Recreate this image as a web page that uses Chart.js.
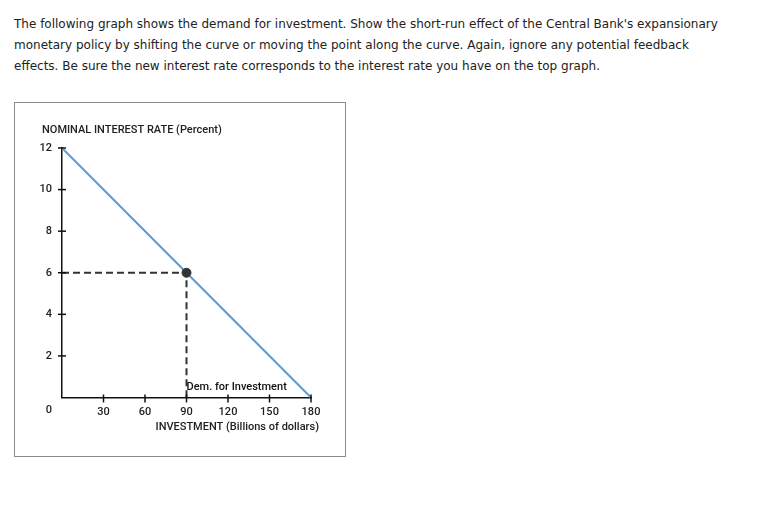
<!DOCTYPE html>
<html>
<head>
<meta charset="utf-8">
<script src="https://cdn.jsdelivr.net/npm/chart.js@4/dist/chart.umd.min.js"></script>
<style>
  body { margin: 0; background: #fff; }
  #question {
    position: absolute; left: 14px; top: 14px; width: 750px; white-space: nowrap;
    font-family: "DejaVu Sans", Verdana, sans-serif; font-size: 12px; line-height: 21px; color: #222;
  }
  #box {
    position: absolute; left: 14px; top: 102px; width: 330px; height: 353px;
    border: 1px solid #8a8a8a;
  }
  #box canvas { display: block; }
</style>
</head>
<body>
<div id="question">The following graph shows the demand for investment. Show the short-run effect of the Central Bank's expansionary<br>monetary policy by shifting the curve or moving the point along the curve. Again, ignore any potential feedback<br>effects. Be sure the new interest rate corresponds to the interest rate you have on the top graph.</div>
<div id="box"><canvas id="grafico" width="330" height="353"></canvas></div>
<script>
// Demand for investment curve (endpoints)
const curveInvestment = [0, 180];
const curveRate = [12, 0];
// Current equilibrium point
const pointInvestment = [90];
const pointRate = [6];
// Axis ticks
const xTicks = [0, 30, 60, 90, 120, 150, 180];
const yTicks = [0, 2, 4, 6, 8, 10, 12];
const curveLabel = 'Dem. for Investment';
const yTitle = 'NOMINAL INTEREST RATE (Percent)';
const xTitle = 'INVESTMENT (Billions of dollars)';

const FONT = 'Roboto, "Liberation Sans", sans-serif';

// tick marks crossing the axes, the lone "0", axis titles and the curve label
const extras = {
    id: 'extras',
    afterDraw(chart) {
        const { ctx, scales: { x, y }, chartArea } = chart;
        ctx.save();
        ctx.strokeStyle = '#111';
        ctx.lineWidth = 1.5;
        yTicks.forEach(v => {
            if (v === 0) return;
            const py = y.getPixelForValue(v);
            ctx.beginPath();
            ctx.moveTo(chartArea.left - 4, py);
            ctx.lineTo(chartArea.left + 4, py);
            ctx.stroke();
        });
        xTicks.forEach(v => {
            if (v === 0) return;
            const px = x.getPixelForValue(v);
            ctx.beginPath();
            ctx.moveTo(px, chartArea.bottom - 3);
            ctx.lineTo(px, chartArea.bottom + 5);
            ctx.stroke();
        });

        ctx.fillStyle = '#222';
        ctx.font = '500 11px ' + FONT;
        ctx.textBaseline = 'middle';
        ctx.textAlign = 'right';
        ctx.fillText('0', chartArea.left - 10, chartArea.bottom + 13);

        ctx.textAlign = 'left';
        ctx.fillText(yTitle, chartArea.left - 20, y.getPixelForValue(12) - 18);
        ctx.textAlign = 'right';
        ctx.fillText(xTitle, chartArea.right + 8, chartArea.bottom + 30);

        ctx.fillStyle = '#111';
        ctx.textAlign = 'left';
        ctx.fillText(curveLabel, x.getPixelForValue(pointInvestment[0]), chartArea.bottom - 10);
        ctx.restore();
    }
};

new Chart(document.getElementById('grafico'), {
    type: 'line',
    data: {
        datasets: [{
            label: 'point',
            data: pointInvestment.map((v, i) => ({ x: v, y: pointRate[i] })),
            showLine: false,
            pointRadius: 4.5,
            pointBackgroundColor: '#333',
            pointBorderColor: '#333',
            clip: false
        }, {
            label: curveLabel,
            data: curveInvestment.map((v, i) => ({ x: v, y: curveRate[i] })),
            borderColor: '#5b9bd5',
            borderWidth: 2,
            pointRadius: 0,
            clip: false
        }, {
            label: 'guides',
            data: [
                { x: 0, y: pointRate[0] },
                { x: pointInvestment[0], y: pointRate[0] },
                { x: pointInvestment[0], y: 0 }
            ],
            borderColor: '#333',
            borderWidth: 2,
            borderDash: [7, 4],
            pointRadius: 0,
            clip: false
        }]
    },
    options: {
        responsive: false,
        animation: false,
        layout: { padding: { top: 45, right: 34, bottom: 0, left: 0 } },
        plugins: { legend: { display: false }, tooltip: { enabled: false } },
        scales: {
            x: {
                type: 'linear', min: 0, max: 180,
                afterBuildTicks: s => { s.ticks = xTicks.map(v => ({ value: v })); },
                afterFit: s => { s.height = 58.5; },
                grid: { display: false, drawTicks: false },
                border: { color: '#111', width: 1.5 },
                ticks: {
                    padding: 8, color: '#222', font: { family: FONT, size: 11, weight: '500' },
                    maxRotation: 0,
                    callback: v => v === 0 ? '' : v
                }
            },
            y: {
                type: 'linear', min: 0, max: 12,
                afterBuildTicks: s => { s.ticks = yTicks.map(v => ({ value: v })); },
                afterFit: s => { s.width = 47; },
                grid: { display: false, drawTicks: false },
                border: { color: '#111', width: 1.5 },
                ticks: {
                    padding: 10, color: '#222', font: { family: FONT, size: 11, weight: '500' },
                    callback: v => v === 0 ? '' : v
                }
            }
        }
    },
    plugins: [extras]
});
</script>
</body>
</html>
